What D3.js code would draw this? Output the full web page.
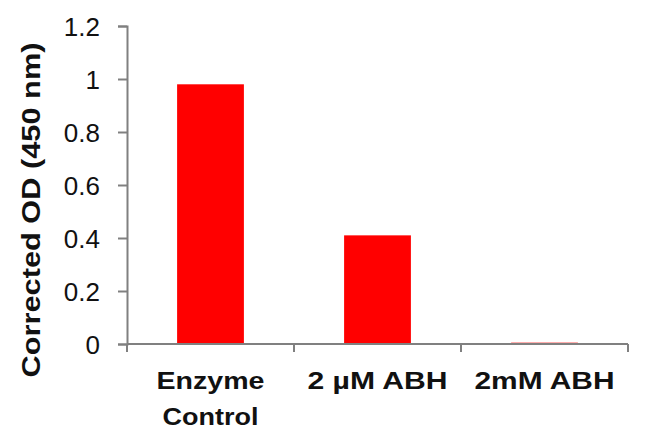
<!DOCTYPE html>
<html>
<head>
<meta charset="utf-8">
<script src="https://cdn.jsdelivr.net/npm/d3@7"></script>
<style>
  body { margin: 0; background: #fff; }
  text { font-family: "Liberation Sans", Arial, sans-serif; fill: #111; }
</style>
</head>
<body>
<svg id="chart" width="650" height="447"></svg>
<script>
// chart data
const categories = ["Enzyme Control", "2 µM ABH", "2mM ABH"];
const labelLines = [["Enzyme", "Control"], ["2 µM ABH"], ["2mM ABH"]];
const values = [0.98, 0.41, 0.005];
const yTicks = [0, 0.2, 0.4, 0.6, 0.8, 1, 1.2];

const margin = { left: 127, right: 22, top: 26, bottom: 103 };
const width = 650, height = 447;

const svg = d3.select("#chart");

const x = d3.scaleBand()
  .domain(categories)
  .range([margin.left, width - margin.right])
  .paddingInner(0.6)
  .paddingOuter(0.3);

const y = d3.scaleLinear()
  .domain([0, 1.2])
  .range([height - margin.bottom, margin.top]);

// bars
svg.selectAll("rect.bar")
  .data(values)
  .join("rect")
  .attr("class", "bar")
  .attr("x", (d, i) => x(categories[i]))
  .attr("width", x.bandwidth())
  .attr("y", (d) => y(d))
  .attr("height", (d) => y(0) - y(d))
  .attr("fill", "#ff0000");

// y axis
const yAxis = svg.append("g")
  .attr("transform", `translate(${margin.left},0)`)
  .call(d3.axisLeft(y).tickValues(yTicks).tickSize(9).tickFormat(d3.format("~g")));
yAxis.select(".domain").attr("stroke", "#808080").attr("stroke-width", 2);
yAxis.selectAll(".tick line").attr("stroke", "#808080").attr("stroke-width", 2);
yAxis.selectAll(".tick text")
  .attr("x", -27)
  .attr("dy", "0.36em")
  .style("font-size", "26px");

// x axis: ticks on the band boundaries
const step = x.step();
const xEdges = d3.range(categories.length + 1).map((i) => margin.left + i * (width - margin.left - margin.right) / categories.length);
svg.append("line")
  .attr("x1", margin.left).attr("x2", width - margin.right)
  .attr("y1", y(0)).attr("y2", y(0))
  .attr("stroke", "#808080").attr("stroke-width", 2);
svg.selectAll("line.xtick")
  .data(xEdges)
  .join("line")
  .attr("class", "xtick")
  .attr("x1", (d) => d).attr("x2", (d) => d)
  .attr("y1", y(0)).attr("y2", y(0) + 8)
  .attr("stroke", "#808080").attr("stroke-width", 2);

// category labels
const lineWidths = { "Enzyme": 108, "Control": 96, "2 µM ABH": 140, "2mM ABH": 140 };
labelLines.forEach((lines, i) => {
  const cx = x(categories[i]) + x.bandwidth() / 2;
  lines.forEach((t, j) => {
    svg.append("text")
      .attr("x", cx)
      .attr("y", 389 + j * 36)
      .attr("text-anchor", "middle")
      .attr("textLength", lineWidths[t])
      .attr("lengthAdjust", "spacingAndGlyphs")
      .style("font-size", "24px")
      .style("font-weight", "bold")
      .text(t);
  });
});

// y title
svg.append("text")
  .attr("transform", "translate(40,210) rotate(-90)")
  .attr("text-anchor", "middle")
  .attr("textLength", 335)
  .attr("lengthAdjust", "spacingAndGlyphs")
  .style("font-size", "26px")
  .style("font-weight", "bold")
  .text("Corrected OD (450 nm)");
</script>
</body>
</html>
